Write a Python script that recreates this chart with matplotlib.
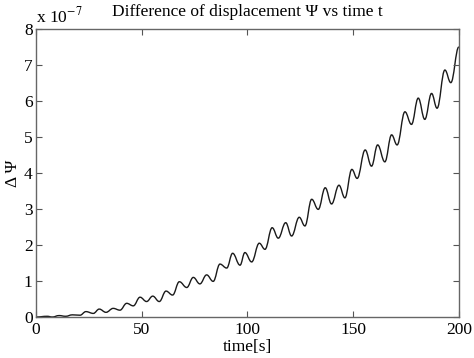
import numpy as np
import matplotlib
matplotlib.use("Agg")
import matplotlib.pyplot as plt
from matplotlib.path import Path
from matplotlib.patches import PathPatch

plt.rcParams['font.family'] = ['Liberation Serif', 'DejaVu Serif']
plt.rcParams['mathtext.fontset'] = 'stix'

# Local extrema of the curve (time in s, value in units of 1e-7)
t_points = [0.0, 5.3, 7.7, 10.9, 14.0, 17.2, 20.8, 23.6, 27.1, 29.9, 33.1, 36.5, 39.7,
            42.9, 46.0, 49.2, 52.3, 55.2, 58.3, 61.5, 64.6, 67.8, 71.3, 74.4, 77.5,
            80.7, 83.8, 87.0, 90.2, 93.0, 96.5, 98.8, 102.0, 105.6, 108.3, 111.7,
            114.6, 118.1, 120.9, 124.5, 127.2, 130.4, 133.5, 136.8, 139.8, 143.3,
            146.1, 149.4, 151.9, 155.7, 158.7, 161.6, 165.0, 168.2, 170.8, 174.5,
            177.6, 180.8, 183.9, 187.1, 189.7, 193.4, 196.2, 200.0]
dpsi = [0.00, 0.02, 0.00, 0.04, 0.02, 0.06, 0.05, 0.15, 0.10, 0.22, 0.13, 0.24, 0.19,
        0.38, 0.31, 0.55, 0.43, 0.58, 0.43, 0.72, 0.61, 0.98, 0.82, 1.10, 0.92,
        1.17, 0.99, 1.47, 1.36, 1.77, 1.44, 1.79, 1.53, 2.05, 1.88, 2.48,
        2.19, 2.62, 2.25, 2.77, 2.53, 3.27, 2.99, 3.59, 3.14, 3.66,
        3.31, 4.10, 3.85, 4.64, 4.19, 4.78, 4.31, 5.06, 4.78, 5.70,
        5.35, 6.08, 5.49, 6.21, 5.80, 6.86, 6.51, 7.50]

x_ticks = [0, 50, 100, 150, 200]
y_ticks = [0, 1, 2, 3, 4, 5, 6, 7, 8]

fig = plt.figure(figsize=(4.74, 3.58), dpi=100)
ax = fig.add_axes([0.076, 0.1145, 0.892, 0.8045])

# smooth curve through the extrema (horizontal tangent at each one)
verts = [(t_points[0], dpsi[0])]
codes = [Path.MOVETO]
for i in range(len(t_points) - 1):
    t0, v0 = t_points[i], dpsi[i]
    t1, v1 = t_points[i + 1], dpsi[i + 1]
    dt = t1 - t0
    verts += [(t0 + dt * 0.4, v0), (t1 - dt * 0.4, v1), (t1, v1)]
    codes += [Path.CURVE4] * 3
ax.add_patch(PathPatch(Path(verts, codes), facecolor='none', edgecolor='#1a1a1a', lw=1.0))

ax.set_xlim(0, 200)
ax.set_ylim(0, 8)
ax.set_xticks(x_ticks)
ax.set_yticks(y_ticks)
ax.tick_params(direction='in', length=4, width=0.8, color='#555555', top=True, right=True,
               labelsize=12.5)
ax.tick_params(axis='x', pad=3.5)
ax.tick_params(axis='y', pad=2.5)
for s in ax.spines.values():
    s.set_color('#666666')
    s.set_linewidth(1.0)

ax.set_title('Difference of displacement Ψ vs time t', fontsize=12.5, pad=9)
ax.set_xlabel('time[s]', fontsize=12.5, labelpad=0.5)
ax.set_ylabel('Δ Ψ', fontsize=12.5, labelpad=2)
ax.text(0.0, 1.008, 'x 10$^{-7}$', transform=ax.transAxes, fontsize=12.5, ha='left', va='bottom')

fig.savefig('out.png', dpi=100)
